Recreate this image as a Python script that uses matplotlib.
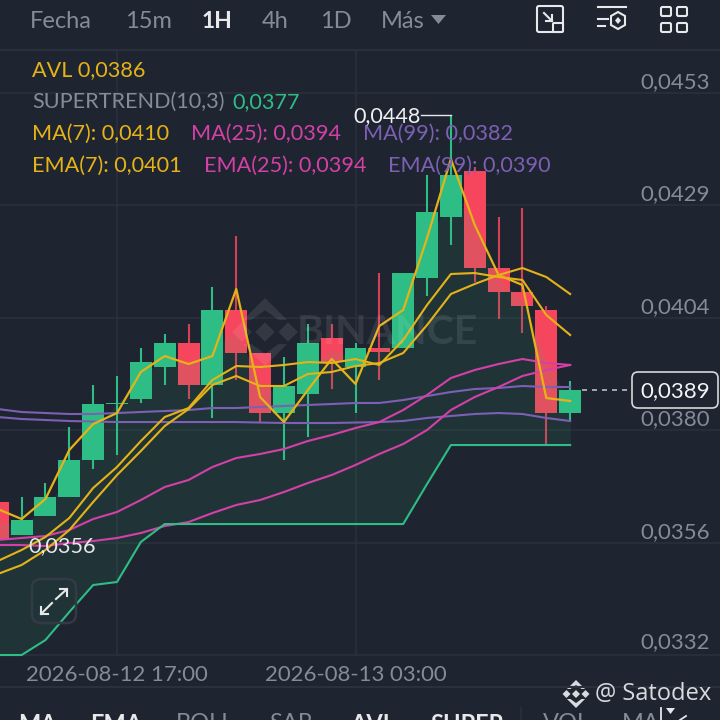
import matplotlib
matplotlib.use("Agg")
import matplotlib.pyplot as plt
from matplotlib.patches import FancyBboxPatch, Polygon

# candle index 0 is 2026-08-12 17:00
candle_idx = list(range(-5, 20))
opens = [0.036494, 0.035784, 0.036193, 0.036602, 0.037398, 0.038604, 0.038712, 0.039401, 0.039917, 0.039013,
         0.040628, 0.039702, 0.038410, 0.038819, 0.040025, 0.039401, 0.039810, 0.039810, 0.041317, 0.042630,
         0.043621, 0.041532, 0.041015, 0.040628, 0.038410]
closes = [0.035676, 0.036107, 0.036602, 0.037398, 0.038604, 0.038626, 0.039508, 0.039917, 0.039013, 0.040628,
          0.039702, 0.038410, 0.038992, 0.039917, 0.039508, 0.039810, 0.039724, 0.041424, 0.042738, 0.043534,
          0.041532, 0.041015, 0.040714, 0.038410, 0.038905]
highs = [0.036494, 0.036602, 0.036903, 0.038109, 0.039013, 0.039207, 0.039810, 0.040111, 0.040326, 0.041123,
         0.042221, 0.039702, 0.039616, 0.040326, 0.040326, 0.039917, 0.041424, 0.041424, 0.043534, 0.044826,
         0.043707, 0.042630, 0.042824, 0.040714, 0.039099]
lows = [0.035676, 0.035784, 0.036193, 0.036602, 0.037205, 0.037506, 0.038626, 0.039013, 0.038712, 0.038303,
        0.039121, 0.038216, 0.037398, 0.037894, 0.038927, 0.038410, 0.039121, 0.039810, 0.040929, 0.042027,
        0.041231, 0.040434, 0.040133, 0.037743, 0.038216]

avl = [0.036343, 0.036128, 0.036559, 0.037614, 0.038173, 0.038410, 0.039293, 0.039637, 0.039465, 0.039637,
       0.041080, 0.038755, 0.038216, 0.038905, 0.039573, 0.039035, 0.040283, 0.040628, 0.042178, 0.043879,
       0.042458, 0.041381, 0.041166, 0.038733, 0.038669]
ma7 = [0.034944, 0.035138, 0.035461, 0.035891, 0.036494, 0.037075, 0.037592, 0.038130, 0.038496, 0.039013,
       0.039207, 0.038992, 0.038992, 0.039250, 0.039293, 0.039422, 0.039487, 0.039702, 0.040305, 0.040972,
       0.041188, 0.041381, 0.041532, 0.041338, 0.040972]
ema7 = [0.035224, 0.035461, 0.035741, 0.036150, 0.036796, 0.037248, 0.037807, 0.038324, 0.038518, 0.039121,
        0.039422, 0.039401, 0.039444, 0.039508, 0.039487, 0.039573, 0.039444, 0.039982, 0.040736, 0.041403,
        0.041424, 0.041338, 0.041274, 0.040520, 0.040090]
ema25 = [0.035676, 0.035719, 0.035762, 0.035891, 0.036128, 0.036279, 0.036537, 0.036817, 0.036968, 0.037248,
         0.037441, 0.037528, 0.037635, 0.037807, 0.037937, 0.038087, 0.038216, 0.038475, 0.038798, 0.039164,
         0.039336, 0.039465, 0.039573, 0.039487, 0.039444]
ma25 = [0.035568, 0.035568, 0.035547, 0.035611, 0.035654, 0.035719, 0.035827, 0.035977, 0.036063, 0.036257,
        0.036430, 0.036537, 0.036709, 0.036903, 0.037075, 0.037291, 0.037528, 0.037743, 0.038044, 0.038475,
        0.038755, 0.038970, 0.039207, 0.039336, 0.039444]
ema99 = [0.038496, 0.038432, 0.038410, 0.038389, 0.038389, 0.038410, 0.038432, 0.038453, 0.038475, 0.038518,
         0.038518, 0.038539, 0.038561, 0.038583, 0.038604, 0.038626, 0.038626, 0.038690, 0.038776, 0.038862,
         0.038927, 0.038949, 0.038992, 0.038970, 0.038970]
ma99 = [0.038324, 0.038281, 0.038260, 0.038238, 0.038227, 0.038216, 0.038216, 0.038216, 0.038216, 0.038216,
        0.038216, 0.038205, 0.038195, 0.038195, 0.038195, 0.038205, 0.038216, 0.038238, 0.038303, 0.038346,
        0.038389, 0.038410, 0.038389, 0.038303, 0.038238]
supertrend = [0.033200, 0.033200, 0.033523, 0.034126, 0.034707, 0.034772, 0.035633, 0.036020, 0.036020, 0.036020,
              0.036020, 0.036020, 0.036020, 0.036020, 0.036020, 0.036020, 0.036020, 0.036020, 0.036882, 0.037721,
              0.037721, 0.037721, 0.037721, 0.037721, 0.037721]

grid_prices = [0.045300, 0.042889, 0.040456, 0.038044, 0.035611, 0.033200]
price_labels = ["0,0453", "0,0429", "0,0404", "0,0380", "0,0356", "0,0332"]
date_ticks = [0, 10]
date_labels = ["2026-08-12 17:00", "2026-08-13 03:00"]

BG = "#1f2530"
GRID = "#2b313c"
GREY = "#848c99"
GREEN = "#2ebd85"
RED = "#f6465d"
YELLOW = "#e5b318"
PINK = "#d440a8"
PURPLE = "#7d5fb4"
UI_FONT = "Lato"

fig = plt.figure(figsize=(7.2, 7.2), dpi=100, facecolor=BG)

ax = fig.add_axes([0, 0, 1, 1], facecolor=BG)
ax.set_xlim(-4.906, 25.283)
ax.set_ylim(0.031801, 0.047302)
ax.axis("off")

# grid
for p in grid_prices:
    ax.axhline(p, color=GRID, lw=1.2, zorder=1)
for d in date_ticks:
    ax.plot([d, d], [0.0332, 0.0462], color=GRID, lw=1.2, zorder=1)

# candles
for i, o, c, h, l in zip(candle_idx, opens, closes, highs, lows):
    col = GREEN if c >= o else RED
    ax.vlines(i, l, h, color=col, lw=1.5, alpha=0.85 if col == RED else 1, zorder=2)
    ax.bar(i, abs(c - o), bottom=min(o, c), width=0.92, color=col, lw=0, zorder=3)

# supertrend band, goes up to the middle of each candle body
mids = [(o + c) / 2 for o, c in zip(opens, closes)]
ax.fill_between(candle_idx, supertrend, mids, color=GREEN, alpha=0.1, lw=0, zorder=4)

ax.plot(candle_idx, ma99, color=PURPLE, lw=1.5, zorder=6)
ax.plot(candle_idx, ema99, color=PURPLE, lw=1.5, zorder=6)
ax.plot(candle_idx, ma25, color=PINK, lw=1.5, zorder=6)
ax.plot(candle_idx, ema25, color=PINK, lw=1.5, zorder=6)
ax.plot(candle_idx, supertrend, color=GREEN, lw=1.5, zorder=6)
ax.plot(candle_idx, ma7, color=YELLOW, lw=1.5, zorder=7)
ax.plot(candle_idx, ema7, color=YELLOW, lw=1.5, zorder=7)
ax.plot(candle_idx, avl, color=YELLOW, lw=1.6, zorder=7)

# price and time labels
for p, label_text in zip(grid_prices, price_labels):
    off = 13 if label_text == "0,0332" else 11
    ax.annotate(label_text, xy=(1, p), xycoords=ax.get_yaxis_transform(), xytext=(-10, off),
                textcoords="offset pixels", ha="right", va="center", color=GREY,
                fontsize=16, family=UI_FONT, zorder=9)
for d, label_text in zip(date_ticks, date_labels):
    ax.annotate(label_text, xy=(d, 0.0332), xytext=(0, -20), textcoords="offset pixels", ha="center",
                va="center", color=GREY, fontsize=15.9, family=UI_FONT, zorder=9)

# overlay in pixel coordinates for the app chrome
ui = fig.add_axes([0, 0, 1, 1], facecolor="none")
ui.set_xlim(0, 720)
ui.set_ylim(720, 0)
ui.axis("off")


def label(x, y, s, color, size=15.6, weight="normal", ha="left", family=UI_FONT, alpha=1):
    ui.text(x, y, s, color=color, fontsize=size, fontweight=weight, ha=ha, va="center",
            family=family, alpha=alpha, zorder=8)


def logo(cx, cy, r, color, alpha=1):
    s = r / 14
    parts = [
        [(0, -4), (4, 0), (0, 4), (-4, 0)],
        [(-9.5, -4), (-5.5, 0), (-9.5, 4), (-13.5, 0)],
        [(9.5, -4), (13.5, 0), (9.5, 4), (5.5, 0)],
        [(0, -14), (9, -5), (5.5, -5), (0, -9), (-5.5, -5), (-9, -5)],
        [(0, 14), (9, 5), (5.5, 5), (0, 9), (-5.5, 5), (-9, 5)],
    ]
    for part in parts:
        ui.add_patch(Polygon([(cx + px * s, cy + py * s) for px, py in part], closed=True,
                             fc=color, ec="none", alpha=alpha))


def rbox(x, y, w, h, r, fc="none", ec="#e6e8ea", lw=1.5, z=5):
    ui.add_patch(FancyBboxPatch((x + r, y + r), w - 2 * r, h - 2 * r, boxstyle=f"round,pad={r}",
                                fc=fc, ec=ec, lw=lw, zorder=z))


# watermark
logo(265, 332, 34, "#ffffff", alpha=0.09)
label(297, 332, "BINANCE", "#ffffff", size=29.5, weight="bold", alpha=0.09)

# top bar
ui.plot([0, 720], [50, 50], color=GRID, lw=1.5)
for x, s in zip([30, 125, 262, 320, 381], ["Fecha", "15m", "4h", "1D", "Más"]):
    label(x, 21, s, GREY, size=17)
label(202, 21, "1H", "#e6e8ea", size=16.5, weight="bold")
ui.add_patch(Polygon([(431, 15), (446, 15), (438.5, 24)], closed=True, fc=GREY, ec="none"))

# icons top right
rbox(537, 6, 26, 26, 2)
rbox(553, 23, 10, 9, 1, fc=BG)
ui.plot([544, 552], [13, 21], color="#e6e8ea", lw=1.5)
ui.plot([546, 552, 552], [21, 21, 15], color="#e6e8ea", lw=1.5)
ui.plot([598, 626], [7, 7], color="#e6e8ea", lw=1.5)
ui.plot([598, 608], [19, 19], color="#e6e8ea", lw=1.5)
ui.plot([598, 605], [26, 26], color="#e6e8ea", lw=1.5)
ui.add_patch(Polygon([(618, 12), (625, 16), (625, 25), (618, 29), (611, 25), (611, 16)], closed=True,
                     fc="none", ec="#e6e8ea", lw=1.5))
ui.add_patch(Polygon([(618, 17), (621, 20.5), (618, 24), (615, 20.5)], closed=True, fc="#e6e8ea", ec="none"))
for x in [661, 677]:
    for y in [7, 23]:
        rbox(x, y, 10, 9, 1.5)

# legend
label(32, 70, "AVL 0,0386", YELLOW)
label(32, 102, "SUPERTREND(10,3)", GREY)
label(232, 102, "0,0377", GREEN)
label(32, 134, "MA(7): 0,0410", YELLOW)
label(191, 134, "MA(25): 0,0394", PINK)
label(363, 134, "MA(99): 0,0382", PURPLE)
label(32, 166, "EMA(7): 0,0401", YELLOW)
label(204, 166, "EMA(25): 0,0394", PINK)
label(388, 166, "EMA(99): 0,0390", PURPLE)

# high and low marks
label(353, 116, "0,0448", "#f0f1f2")
ui.plot([421, 451], [115, 115], color="#e6e8ea", lw=1)
label(28, 546, "0,0356", "#e6e8ea")

# last price box
ui.plot([582, 632], [390, 390], color="#b8bcc4", lw=1.2, ls=(0, (3, 3)))
rbox(632, 372, 86, 36, 6, fc=BG, ec="#d5d8dc", lw=1.2)
label(675, 391, "0,0389", "#f4f5f6", size=16, ha="center")

# expand button
rbox(32, 579, 44, 44, 9, fc="none", ec="#333a45", lw=1.8)
ui.plot([56, 67], [599, 589], color="#e6e8ea", lw=1.5)
ui.plot([60, 67, 67], [589, 589, 596], color="#e6e8ea", lw=1.5)
ui.plot([41, 52], [614, 603], color="#e6e8ea", lw=1.5)
ui.plot([41, 41, 48], [607, 614, 614], color="#e6e8ea", lw=1.5)

# bottom tabs, cut off by the edge of the screenshot
ui.plot([0, 720], [687, 687], color=GRID, lw=1.5)
for x, s, col, w in [(18, "MA", "#e6e8ea", "bold"), (90, "EMA", "#e6e8ea", "bold"), (176, "BOLL", GREY, "normal"),
                     (269, "SAR", GREY, "normal"), (350, "AVL", "#e6e8ea", "bold"), (430, "SUPER", "#e6e8ea", "bold"),
                     (543, "VOL", GREY, "normal"), (622, "MA", GREY, "normal")]:
    label(x, 724, s, col, size=17, weight=w)
ui.plot([521, 521], [708, 720], color=GRID, lw=1.2)
ui.plot([661, 661], [708, 720], color="#e6e8ea", lw=1.3)
ui.add_patch(Polygon([(666, 708), (675, 708), (670.5, 714)], closed=True, fc="#e6e8ea", ec="none"))
ui.plot([680, 686], [720, 716], color="#e6e8ea", lw=1.3)

# user watermark
logo(576, 694, 14, "#d8dade")
label(595, 694, "@ Satodex", "#d8dade", size=17, family="Open Sans")

fig.savefig("out.png", dpi=100, facecolor=BG)
